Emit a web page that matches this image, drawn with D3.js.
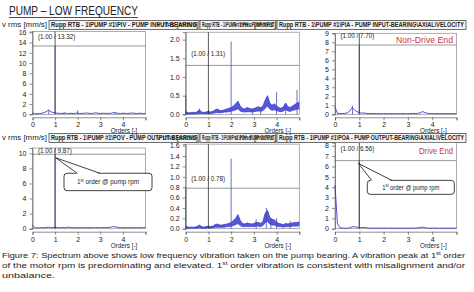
<!DOCTYPE html>
<html>
<head>
<meta charset="utf-8">
<script src="https://cdn.jsdelivr.net/npm/d3@7"></script>
<style>
  body { margin: 0; background: #fff; }
  text { font-family: "Liberation Sans", Arial, sans-serif; fill: #222; }
</style>
</head>
<body>
<svg id="chart" width="474" height="292"></svg>
<script>
// order axis samples (shared by all six spectra)
var orders = [0.0,0.1,0.2,0.3,0.4,0.5,0.6,0.7,0.8,0.9,1.0,1.1,1.2,1.3,1.4,1.5,1.6,1.7,1.8,1.9,
  2.0,2.1,2.2,2.3,2.4,2.5,2.6,2.7,2.8,2.9,3.0,3.1,3.2,3.3,3.4,3.5,3.6,3.7,3.8,3.9,
  4.0,4.1,4.2,4.3,4.4,4.5,4.6,4.7,4.8,4.9,5.0];
var xTicks = [0, 1, 2, 3, 4, 5];

// PIV - pump input, vertical
var p1Line = [0.30,0.10,0.10,0.15,0.20,0.30,0.50,0.80,0.55,0.35,0.30,0.20,0.20,0.15,0.25,0.20,0.15,0.20,0.15,0.20,
  0.25,0.15,0.20,0.20,0.25,0.20,0.15,0.20,0.30,0.20,0.15,0.20,0.20,0.15,0.20,0.20,0.35,0.25,0.20,0.15,
  0.20,0.20,0.15,0.20,0.25,0.20,0.15,0.20,0.20,0.15,0.20];
var p1Spikes = [[1.0,13.32],[2.0,0.8],[1.4,0.35],[3.65,0.4],[0.72,0.9]];

// PIH - pump input, horizontal (noisy band: lower / upper envelope)
var p2Hi = [0.08,0.04,0.04,0.05,0.05,0.06,0.12,0.06,0.05,0.06,0.08,0.06,0.08,0.12,0.14,0.10,0.10,0.12,0.14,0.16,
  0.18,0.22,0.28,0.35,0.22,0.16,0.14,0.18,0.16,0.14,0.15,0.18,0.20,0.18,0.22,0.38,0.50,0.30,0.24,0.28,
  0.22,0.18,0.16,0.20,0.30,0.20,0.18,0.22,0.26,0.30,0.32];
var p2Lo = [0.00,0.01,0.01,0.01,0.01,0.02,0.03,0.02,0.02,0.02,0.02,0.02,0.03,0.04,0.05,0.04,0.05,0.06,0.06,0.07,
  0.08,0.10,0.12,0.15,0.09,0.07,0.06,0.07,0.07,0.06,0.07,0.08,0.09,0.08,0.10,0.16,0.22,0.14,0.11,0.12,
  0.10,0.08,0.07,0.09,0.13,0.09,0.08,0.10,0.12,0.14,0.15];
var p2Spikes = [[0,0.5],[0.6,0.15],[1.0,0.1],[2.0,1.95],[2.95,0.15],[3.3,0.18],[4.0,0.6],[4.4,0.3],[4.9,0.65]];

// PIA - pump input, axial
var p3Line = [0.80,0.10,0.08,0.08,0.10,0.15,0.35,0.75,0.50,0.30,0.20,0.12,0.15,0.10,0.08,0.10,0.08,0.06,0.08,0.06,
  0.08,0.06,0.06,0.08,0.06,0.08,0.06,0.06,0.08,0.06,0.06,0.08,0.10,0.08,0.10,0.15,0.30,0.20,0.12,0.08,
  0.08,0.06,0.08,0.06,0.08,0.06,0.08,0.06,0.08,0.06,0.08];
var p3Spikes = [[1.0,7.70],[0.72,0.95]];

// POV - pump output, vertical
var p4Line = [0.45,0.15,0.10,0.12,0.15,0.12,0.15,0.20,0.15,0.15,0.20,0.15,0.12,0.15,0.12,0.15,0.20,0.15,0.12,0.15,
  0.12,0.15,0.12,0.15,0.12,0.15,0.12,0.15,0.12,0.15,0.12,0.15,0.15,0.12,0.18,0.22,0.30,0.22,0.15,0.12,
  0.15,0.12,0.15,0.12,0.15,0.12,0.15,0.12,0.15,0.12,0.15];
var p4Spikes = [[1.0,9.87]];

// POH - pump output, horizontal
var p5Hi = [0.05,0.03,0.03,0.03,0.03,0.04,0.07,0.04,0.03,0.04,0.05,0.04,0.05,0.08,0.09,0.07,0.07,0.08,0.09,0.10,
  0.12,0.16,0.20,0.27,0.16,0.10,0.09,0.11,0.10,0.09,0.10,0.12,0.12,0.10,0.14,0.30,0.35,0.22,0.18,0.17,
  0.13,0.10,0.09,0.08,0.10,0.09,0.10,0.11,0.12,0.12,0.13];
var p5Lo = [0.00,0.01,0.01,0.01,0.01,0.01,0.02,0.01,0.01,0.01,0.02,0.01,0.02,0.03,0.03,0.03,0.03,0.03,0.04,0.04,
  0.05,0.06,0.08,0.10,0.06,0.04,0.04,0.04,0.04,0.04,0.04,0.05,0.05,0.04,0.06,0.12,0.14,0.09,0.07,0.07,
  0.05,0.04,0.04,0.03,0.04,0.04,0.04,0.05,0.05,0.05,0.06];
var p5Spikes = [[0,0.78],[1.0,0.05],[2.0,1.35],[3.1,0.18],[3.55,0.40],[3.75,0.2],[4.0,0.20],[4.6,0.15]];

// POA - pump output, axial
var p6Line = [4.20,0.50,0.10,0.06,0.05,0.05,0.08,0.18,0.20,0.15,0.12,0.10,0.12,0.08,0.06,0.05,0.05,0.06,0.05,0.05,
  0.06,0.05,0.05,0.06,0.05,0.05,0.06,0.05,0.05,0.06,0.05,0.05,0.06,0.05,0.08,0.10,0.15,0.10,0.06,0.05,
  0.05,0.06,0.05,0.05,0.06,0.05,0.05,0.06,0.05,0.05,0.06];
var p6Spikes = [[1.0,6.56]];

var cursorValues = [13.32, 1.31, 7.70, 9.87, 0.78, 6.56];

var headerTop = ["Rupp RTB - 1\\PUMP #1\\PIV - PUMP INPUT-BEARING",
  "Rupp RTB - 1\\PUMP #1\\PIH - PUMP INPUT",
  "Rupp RTB - 1\\PUMP #1\\PIA - PUMP INPUT-BEARING\\AXIAL\\VELOCITY"];
var headerBottom = ["Rupp RTB - 1\\PUMP #1\\POV - PUMP OUTPUT-BEARING",
  "Rupp RTB - 1\\PUMP #1\\POH - PUMP OUTPUT",
  "Rupp RTB - 1\\PUMP #1\\POA - PUMP OUTPUT-BEARING\\AXIAL\\VELOCITY"];

var blue = "#3a3ad2";
var svg = d3.select("#chart");

// title
svg.append("text").attr("x", 9).attr("y", 15)
  .attr("font-size", 12).attr("textLength", 129).attr("lengthAdjust", "spacingAndGlyphs")
  .text("PUMP \u2013 LOW FREQUENCY");
svg.append("line").attr("x1", 9).attr("x2", 138).attr("y1", 17.5).attr("y2", 17.5)
  .attr("stroke", "#222").attr("stroke-width", 0.8);

// channel header rows: unit label + boxed channel path for each of the three plots
function headerRow(texts, cy) {
  var boxX = [49, 200, 277], boxW = [150, 76, 189];
  var unitX = [2, 157, 234], unitW = [45, 41, 42];
  texts.forEach(function(t, i) {
    svg.append("rect").attr("x", boxX[i]).attr("y", cy - 4.5).attr("width", boxW[i]).attr("height", 9)
      .attr("fill", "#e4e4e4").attr("fill-opacity", 0.4).attr("stroke", "#333").attr("stroke-width", 0.7);
    svg.append("text").attr("x", boxX[i] + 2).attr("y", cy + 2.3)
      .attr("font-size", 6.5).attr("font-weight", "bold")
      .attr("textLength", boxW[i] - 4).attr("lengthAdjust", "spacingAndGlyphs")
      .text(texts[i]);
    svg.append("text").attr("x", unitX[i]).attr("y", cy + 2.3)
      .attr("font-size", 6.5).attr("textLength", unitW[i]).attr("lengthAdjust", "spacingAndGlyphs")
      .text("v rms [mm/s]");
  });
}
headerRow(headerTop, 25);
headerRow(headerBottom, 138);

var panels = [
  {line: p1Line, spikes: p1Spikes, yMax: 16.15, yTicks: d3.range(0, 17, 2), fmt: d3.format("d"),
   left: 32.5, right: 145.5, bottom: 114.3, top: 31.5, labelY: 39},
  {lo: p2Lo, hi: p2Hi, spikes: p2Spikes, yMax: 2.2, yTicks: [0, 0.5, 1, 1.5, 2], fmt: d3.format(".1f"),
   left: 185.7, right: 299.3, bottom: 114.3, top: 32.2, labelY: 56},
  {line: p3Line, spikes: p3Spikes, yMax: 9, yTicks: d3.range(0, 10, 1), fmt: d3.format("d"),
   left: 335, right: 456.5, bottom: 114.3, top: 33.3, labelY: 37.5,
   tag: "Non-Drive End", tagW: 57, tagY: 42.5},
  {line: p4Line, spikes: p4Spikes, yMax: 10.7, yTicks: d3.range(0, 11, 2), fmt: d3.format("d"),
   left: 32.5, right: 145.5, bottom: 228.7, top: 148, labelY: 152.5,
   callout: {tipDx: 0.5, tipDy: 3.5, boxDx: 8.4, boxDy: 15.5, w: 88, h: 17.4, b1: 21.7, b2: 44.4, tw: 62}},
  {lo: p5Lo, hi: p5Hi, spikes: p5Spikes, yMax: 1.63, yTicks: d3.range(0, 1.61, 0.2), fmt: d3.format(".1f"),
   left: 185.7, right: 299.3, bottom: 228.7, top: 144.1, labelY: 180.5},
  {line: p6Line, spikes: p6Spikes, yMax: 8.3, yTicks: d3.range(0, 9, 1), fmt: d3.format("d"),
   left: 335, right: 456.5, bottom: 228.7, top: 142.6, labelY: 150.5,
   tag: "Drive End", tagW: 34, tagY: 153.5,
   callout: {tipDx: -1, tipDy: 2.7, boxDx: 9, boxDy: 17, w: 87, h: 14, b1: 13.4, b2: 33.4, tw: 57}}
];

panels.forEach(function(p, k) {
  var x = d3.scaleLinear().domain([0, 5]).range([p.left, p.right]);
  var y = d3.scaleLinear().domain([0, p.yMax]).range([p.bottom, p.top]);
  var g = svg.append("g");
  var cur = cursorValues[k];

  g.append("rect").attr("x", p.left).attr("y", p.top)
    .attr("width", p.right - p.left).attr("height", p.bottom - p.top)
    .attr("fill", "none").attr("stroke", "#8a8a8a").attr("stroke-width", 0.7);

  // horizontal cursor
  g.append("line").attr("x1", p.left).attr("x2", p.right)
    .attr("y1", y(cur)).attr("y2", y(cur))
    .attr("stroke", "#6a6a6a").attr("stroke-width", 0.7);

  var line = d3.line().x(function(d, i) { return x(orders[i]); }).y(function(d) { return y(d); });
  if (p.hi) {
    var area = d3.area().x(function(d, i) { return x(orders[i]); })
      .y0(function(d, i) { return y(p.lo[i]); })
      .y1(function(d) { return y(d); });
    g.append("path").datum(p.hi).attr("d", area).attr("fill", blue).attr("fill-opacity", 0.85);
    g.append("path").datum(p.hi).attr("d", line).attr("fill", "none")
      .attr("stroke", blue).attr("stroke-width", 0.8);
    g.append("path").datum(p.lo).attr("d", line).attr("fill", "none")
      .attr("stroke", blue).attr("stroke-width", 0.8);
  } else {
    g.append("path").datum(p.line).attr("d", line).attr("fill", "none")
      .attr("stroke", blue).attr("stroke-width", 0.9);
  }

  g.selectAll(".spike").data(p.spikes).enter().append("line")
    .attr("x1", function(d) { return x(d[0]); }).attr("x2", function(d) { return x(d[0]); })
    .attr("y1", y(0)).attr("y2", function(d) { return y(d[1]); })
    .attr("stroke", "#4a4ab8").attr("stroke-width", 0.8);

  // vertical cursor at 1st order
  g.append("line").attr("x1", x(1)).attr("x2", x(1)).attr("y1", p.bottom).attr("y2", p.top)
    .attr("stroke", "#333").attr("stroke-width", 0.8);

  g.append("text").attr("x", p.left + 5.5).attr("y", p.labelY).attr("font-size", 6.3)
    .text("(1.00 / " + d3.format(".2f")(cur) + ")");

  // axes
  var ya = g.append("g").attr("transform", "translate(" + p.left + ",0)")
    .call(d3.axisLeft(y).tickValues(p.yTicks).tickFormat(p.fmt).tickSize(3).tickPadding(3));
  var xa = g.append("g").attr("transform", "translate(0," + (p.bottom + 3) + ")")
    .call(d3.axisBottom(x).tickValues(xTicks)
      .tickFormat(function(d) { return d < 5 ? d : ""; }).tickSize(3).tickPadding(2));
  [ya, xa].forEach(function(a) {
    a.selectAll("text").attr("font-size", 7).attr("font-family", null).style("fill", "#222");
    a.selectAll("line, path").attr("stroke", "#444").attr("stroke-width", 0.6);
  });
  g.append("text").attr("x", x(4.05)).attr("y", p.bottom + 18.8).attr("text-anchor", "middle")
    .attr("font-size", 6.3).text("Orders [-]");

  if (p.tag) {
    g.append("text").attr("x", p.right - 3.5).attr("y", p.tagY).attr("text-anchor", "end")
      .attr("font-size", 9).attr("textLength", p.tagW).attr("lengthAdjust", "spacingAndGlyphs")
      .style("fill", "#c83848").text(p.tag);
  }

  if (p.callout) {
    var c = p.callout;
    var tx = x(1) + c.tipDx, ty = y(cur) + c.tipDy;
    var bx = tx + c.boxDx, by = ty + c.boxDy;
    g.append("rect").attr("x", bx).attr("y", by).attr("width", c.w).attr("height", c.h)
      .attr("rx", 3).attr("fill", "#fff").attr("stroke", "#111").attr("stroke-width", 0.8);
    g.append("path")
      .attr("d", "M" + (tx + c.b1) + "," + (by + 0.8) + "L" + tx + "," + ty + "L" + (tx + c.b2) + "," + (by + 0.8) + "Z")
      .attr("fill", "#fff").attr("stroke", "none");
    g.append("path")
      .attr("d", "M" + (tx + c.b1) + "," + by + "L" + tx + "," + ty + "L" + (tx + c.b2) + "," + by)
      .attr("fill", "none").attr("stroke", "#111").attr("stroke-width", 0.8);
    var t = g.append("text").attr("x", bx + c.w / 2).attr("y", by + c.h / 2 + 2.5)
      .attr("text-anchor", "middle").attr("font-size", 7.5)
      .attr("textLength", c.tw).attr("lengthAdjust", "spacingAndGlyphs");
    t.append("tspan").text("1");
    t.append("tspan").attr("font-size", 4.8).attr("dy", -2.6).text("st");
    t.append("tspan").attr("dy", 2.6).text(" order @ pump rpm");
  }
});

// caption
var caption = [
  ["Figure 7: Spectrum above shows low frequency vibration taken on the pump bearing. A vibration peak at 1", "st", " order"],
  ["of the motor rpm is predominating and elevated. 1", "st", " order vibration is consistent with misalignment and/or"],
  ["unbalance."]
];
var capWidths = [463, 463, 53];
caption.forEach(function(parts, i) {
  var t = svg.append("text").attr("x", 2).attr("y", 257.5 + i * 10).attr("font-size", 7.6)
    .attr("textLength", capWidths[i]).attr("lengthAdjust", "spacingAndGlyphs");
  t.append("tspan").text(parts[0]);
  if (parts.length > 1) {
    t.append("tspan").attr("font-size", 5).attr("dy", -2.8).text(parts[1]);
    t.append("tspan").attr("dy", 2.8).text(parts[2]);
  }
});
</script>
</body>
</html>
